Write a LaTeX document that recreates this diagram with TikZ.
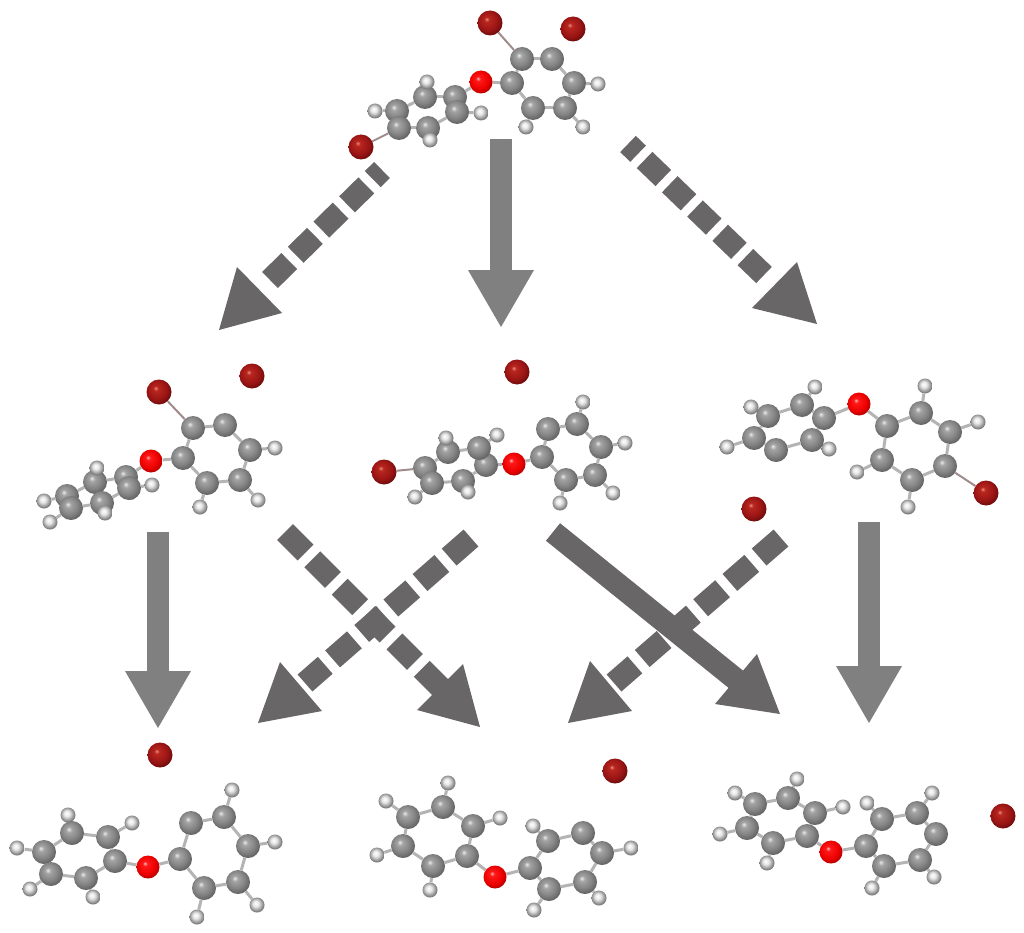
\documentclass[tikz,border=0pt]{standalone}
\usetikzlibrary{backgrounds}
\pgfdeclareradialshading{cshade}{\pgfpoint{-7bp}{8bp}}{rgb(0bp)=(.92,.92,.92);rgb(6bp)=(.64,.64,.64);rgb(18bp)=(.52,.52,.52);rgb(30bp)=(.36,.36,.36);rgb(50bp)=(.28,.28,.28)}
\pgfdeclareradialshading{hshade}{\pgfpoint{-5bp}{6bp}}{rgb(0bp)=(1,1,1);rgb(10bp)=(.9,.9,.9);rgb(20bp)=(.62,.62,.62);rgb(31bp)=(.32,.32,.32);rgb(50bp)=(.28,.28,.28)}
\pgfdeclareradialshading{oshade}{\pgfpoint{-7bp}{8bp}}{rgb(0bp)=(1,.75,.75);rgb(5bp)=(1,.1,.1);rgb(20bp)=(.93,0,0);rgb(32bp)=(.62,0,0);rgb(50bp)=(.4,0,0)}
\pgfdeclareradialshading{brshade}{\pgfpoint{-7bp}{8bp}}{rgb(0bp)=(.92,.55,.5);rgb(5bp)=(.72,.15,.12);rgb(20bp)=(.6,.08,.08);rgb(32bp)=(.36,.03,.03);rgb(50bp)=(.25,0,0)}
\definecolor{arrowmid}{HTML}{808080}
\definecolor{arrowdark}{HTML}{686666}
\definecolor{bondgrey}{HTML}{B4B4B4}
\definecolor{brbondgrey}{HTML}{A08C8C}
\tikzset{
  atomc/.style={circle,inner sep=0pt,minimum size=24pt,shading=cshade},
  atomh/.style={circle,inner sep=0pt,minimum size=15pt,shading=hshade},
  atomo/.style={circle,inner sep=0pt,minimum size=23pt,shading=oshade},
  atombr/.style={circle,inner sep=0pt,minimum size=25pt,shading=brshade},
  bond/.style={draw=bondgrey,line width=3pt},
  brbond/.style={draw=brbondgrey,line width=2pt},
  shaftdark/.style={draw=arrowdark,line width=22.5pt},
  shaftmid/.style={draw=arrowmid,line width=22pt},
  dashone/.style={shaftdark,dash pattern=on 27pt off 9pt,dash phase=14pt},
  dashthree/.style={shaftdark,dash pattern=on 26pt off 9pt,dash phase=12pt},
  dashcross/.style={shaftdark,dash pattern=on 29pt off 9.7pt},
  headdark/.style={fill=arrowdark},
  headmid/.style={fill=arrowmid},
}
% prefix, O position, ring r atoms, ring l atoms, H atoms
\newcommand\molec[5]{%
  \foreach \i/\x/\y in {#3}{\node[atomc] (#1r\i) at (\x,\y) {};}
  \foreach \i/\x/\y in {#4}{\node[atomc] (#1l\i) at (\x,\y) {};}
  \node[atomo] (#1o) at (#2) {};
  \begin{pgfonlayer}{background}
    \foreach \a/\b in {1/2,2/3,3/4,4/5,5/6,6/1}{
      \draw[bond] (#1r\a) -- (#1r\b);
      \draw[bond] (#1l\a) -- (#1l\b);
    }
    \draw[bond] (#1o) -- (#1r1);
    \draw[bond] (#1o) -- (#1l1);
  \end{pgfonlayer}
  \foreach \c/\x/\y in {#5}{
    \node[atomh] (#1h\c) at (\x,\y) {};
    \begin{pgfonlayer}{background}
      \draw[bond] (#1\c) -- (#1h\c);
    \end{pgfonlayer}
  }
}
% name, bonded atom, position
\newcommand\brbound[3]{%
  \node[atombr] (#1) at (#3) {};
  \begin{pgfonlayer}{background}\draw[brbond] (#2) -- (#1);\end{pgfonlayer}
}
% name, shaft style, head style, start, end, tip, base 1, base 2
\newcommand\bigarrow[8]{%
  \coordinate (#1s) at (#4);
  \coordinate (#1e) at (#5);
  \coordinate (#1t) at (#6);
  \coordinate (#1a) at (#7);
  \coordinate (#1b) at (#8);
  \draw[#2] (#1s) -- (#1e);
  \fill[#3] (#1t) -- (#1a) -- (#1b) -- cycle;
}
\begin{document}
\begin{tikzpicture}[x=1pt,y=-1pt]
\useasboundingbox (0,0) rectangle (1024,933);
\begin{pgfonlayer}{background}
\fill[white] (0,0) rectangle (1024,933);
\end{pgfonlayer}

% arrows
\bigarrow{ar1}{dashone}{headdark}{382,170}{270,280}{219,330}{237,267}{282,313}
\bigarrow{ar2}{shaftmid}{headmid}{501,139}{501,271}{501,327}{468,270}{534,270}
\bigarrow{ar3}{dashthree}{headdark}{628,144}{764,275}{817,324}{797,262}{752,308}
\bigarrow{ar4}{shaftmid}{headmid}{158,532}{158,672}{158,728}{125,671}{191,671}
\bigarrow{ar5}{dashcross}{headdark}{285,532}{445,692}{480,727}{463,664}{417,710}
\bigarrow{ar6}{dashcross}{headdark}{471,538}{305,683}{258,723}{280,662}{322,711}
\bigarrow{ar7}{shaftdark}{headdark}{553,532}{738,681}{780,714}{757,654}{715,704}
\bigarrow{ar8}{dashcross}{headdark}{781,538}{614,683}{568,723}{590,661}{632,711}
\bigarrow{ar9}{shaftmid}{headmid}{869,522}{869,667}{869,723}{836,666}{902,666}

% top molecule
\molec{a}{481,82}
  {1/512/83,2/522/59,3/552/59,4/574/83,5/565/108,6/533/108}
  {1/455/97,2/425/97,3/397/111,4/399/128,5/428/128,6/457/112}
  {r4/598/84,r5/583/127,r6/526/127,l2/427/82,l3/375/111,l5/430/140,l6/481/113}
\brbound{abra}{ar2}{490,23}
\node[atombr] (abrb) at (573,29) {};
\brbound{abrc}{al4}{361,147}

% middle row
\molec{b}{151,461}
  {1/183/458,2/193/428,3/225/425,4/250/450,5/240/480,6/207/483}
  {1/126/477,2/95/482,3/67/496,4/71/508,5/102/503,6/129/488}
  {r4/275/448,r5/258/500,r6/200/507,l2/97/468,l3/44/501,l4/50/522,l5/105/513,l6/152/485}
\brbound{bbra}{br2}{159,392}
\node[atombr] (bbrb) at (252,376) {};

\molec{c}{514,464}
  {1/542/457,2/548/429,3/577/424,4/601/447,5/595/475,6/566/480}
  {1/486/465,2/479/448,3/448/452,4/425/468,5/432/483,6/463/481}
  {r3/583/402,r4/625/443,r5/613/493,r6/560/503,l2/497/435,l3/446/438,l5/415/497,l6/468/492}
\brbound{cbra}{cl4}{384,472}
\node[atombr] (cbrb) at (517,372) {};

\molec{d}{859,404}
  {1/887/426,2/921/413,3/950/432,4/945/466,5/912/480,6/882/460}
  {1/824/418,2/802/405,3/768/416,4/754/438,5/776/450,6/812/440}
  {r2/925/386,r3/978/422,r5/908/507,r6/857/472,l2/815/387,l3/751/407,l4/727/447,l6/829/449}
\brbound{dbra}{dr4}{986,493}
\node[atombr] (dbrb) at (754,509) {};

% bottom row
\molec{e}{148,867}
  {1/180/859,2/191/823,3/224/817,4/248/846,5/238/882,6/204/888}
  {1/115/861,2/108/837,3/72/833,4/44/852,5/51/874,6/86/878}
  {r3/232/790,r4/275/842,r5/257/905,r6/197/917,l2/132/823,l3/68/815,l4/17/848,l5/30/889,l6/93/897}
\node[atombr] (ebr) at (160,755) {};

\molec{f}{495,877}
  {1/530/868,2/548/841,3/583/833,4/602/853,5/585/882,6/549/889}
  {1/467/856,2/473/826,3/443/807,4/408/817,5/403/846,6/433/866}
  {r2/533/826,r4/631/848,r5/599/898,r6/534/910,l2/500/818,l3/448/783,l4/386/801,l5/377/855,l6/430/890}
\node[atombr] (fbr) at (615,771) {};

\molec{g}{831,852}
  {1/866/846,2/882/819,3/917/813,4/936/834,5/920/860,6/884/866}
  {1/807/836,2/815/813,3/788/798,4/755/804,5/747/828,6/773/843}
  {r2/867/803,r3/932/793,r5/934/877,r6/872/888,l2/843/807,l3/797/779,l4/735/793,l5/720/834,l6/767/863}
\node[atombr] (gbr) at (1003,816) {};
\end{tikzpicture}
\end{document}
